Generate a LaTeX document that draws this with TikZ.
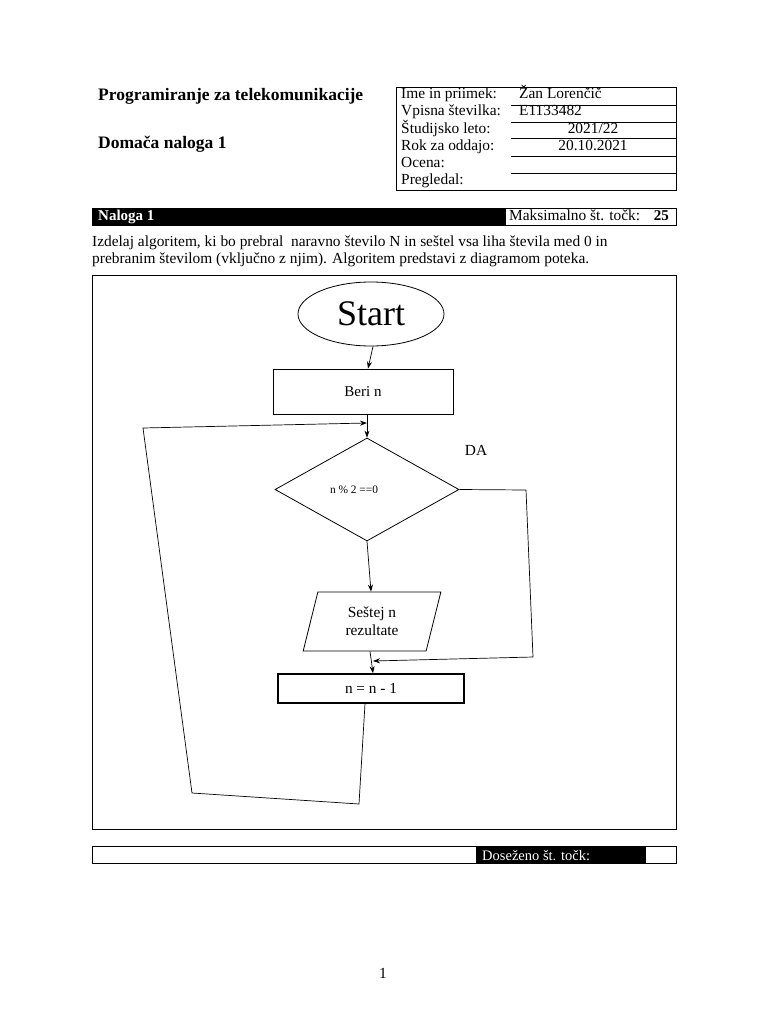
\documentclass[tikz,border=0pt]{standalone}
\usepackage{fontspec}
\setmainfont{Liberation Serif}
\usetikzlibrary{shapes.geometric,arrows.meta,calc}
\begin{document}
\begin{tikzpicture}[x=1pt,y=-1pt,
  txt/.style={inner sep=0pt, anchor=base west, font=\fontsize{15.4}{18}\selectfont},
  btxt/.style={txt, font=\fontsize{15}{18}\selectfont\bfseries},
  htxt/.style={txt, font=\fontsize{17.5}{20}\selectfont\bfseries},
  ctxt/.style={inner sep=0pt, anchor=base, font=\fontsize{15.4}{18}\selectfont},
  frame/.style={draw=black, line width=0.9pt},
  flow/.style={draw=black, line width=0.8pt},
  conn/.style={draw=black, line width=0.7pt},
  arr/.style={conn, -{Stealth[length=7pt,width=5pt]}}
]
\useasboundingbox (0,0) rectangle (768,1024);
\fill[white] (0,0) rectangle (768,1024);

% header titles
\node[htxt] (t1) at (98,101) {Programiranje za telekomunikacije};
\node[htxt] (t2) at (98,149) {Domača naloga 1};

% info table
\draw[frame] (396,87) rectangle (676,190);
\foreach \yy in {105,122,138.5,156,173}{\draw[frame] (511,\yy) -- (676,\yy);}
\node[txt] (l1) at (401,99) {Ime in priimek:};
\node[txt] (l2) at (401,116) {Vpisna številka:};
\node[txt] (l3) at (401,133.5) {Študijsko leto:};
\node[txt] (l4) at (401,150.5) {Rok za oddajo:};
\node[txt] (l5) at (401,168) {Ocena:};
\node[txt] (l6) at (401,184.5) {Pregledal:};
\node[txt] (v1) at (519,99) {Žan Lorenčič};
\node[txt] (v2) at (519,116) {E1133482};
\node[ctxt] (v3) at (593,133.5) {2021/22};
\node[ctxt] (v4) at (593,150.5) {20.10.2021};

% task bar
\fill[black] (92,208) rectangle (505,225);
\draw[frame] (505,208) rectangle (676,225);
\draw[frame] (92,208) rectangle (676,225);
\node[btxt, text=white] (nal) at (98,221) {Naloga 1};
\node[txt] (maks) at (509,221) {Maksimalno št. točk:};
\node[btxt, anchor=base east] (pts) at (669,221) {25};

\node[txt] (d1) at (92,246) {Izdelaj algoritem, ki bo prebral\ \ naravno število N in seštel vsa liha števila med 0 in};
\node[txt] (d2) at (92,263) {prebranim številom (vključno z njim). Algoritem predstavi z diagramom poteka.};

% big frame
\draw[frame] (92,275) rectangle (676,829);

% flowchart
\node[flow, ellipse, minimum width=146pt, minimum height=64pt, inner sep=0pt,
      font=\fontsize{36}{40}\selectfont] (start) at (371,314) {Start};
\node[flow, rectangle, minimum width=180pt, minimum height=45pt, inner sep=0pt,
      font=\fontsize{15}{17}\selectfont] (beri) at (363,391.5) {Beri n};
\node[flow, diamond, minimum width=184pt, minimum height=103pt, inner sep=0pt] (dia) at (367,489.5) {};
\node[inner sep=0pt, font=\fontsize{11.4}{13}\selectfont] (diat) at (354,490) {n \% 2 ==0};
\node[inner sep=0pt, font=\fontsize{15.4}{18}\selectfont] (da) at (476,450) {DA};
\node[flow, trapezium, trapezium left angle=76, trapezium right angle=104,
      minimum width=138pt, minimum height=59pt, inner sep=0pt, trapezium stretches=true,
      align=center, font=\fontsize{15.4}{18}\selectfont] (sum) at (372,621.5) {Seštej n\\rezultate};
\node[draw=black, line width=1.6pt, rectangle, minimum width=186pt, minimum height=29pt, inner sep=0pt,
      font=\fontsize{15.3}{17}\selectfont] (dec) at (371,688.5) {n = n - 1};

% connectors
\draw[arr] ([xshift=2pt]start.south) -- ([xshift=5pt]beri.north);
\coordinate (join) at (367,423);
\draw[arr] ([xshift=4pt]beri.south) -- (dia.north);
\coordinate (c1) at (359,804);
\coordinate (c2) at (192,793);
\coordinate (c3) at (143,428);
\draw[arr] ([xshift=-6pt]dec.south) -- (c1) -- (c2) -- (c3) -- (join);
\draw[arr] (dia.south) -- ([xshift=-1pt]sum.north);
\coordinate (merge) at (373,661);
\coordinate (r1) at (526,490);
\coordinate (r2) at (533,657);
\draw[arr] (dia.east) -- (r1) -- (r2) -- (merge);
\draw[arr] ([xshift=-2pt]sum.south) -- ([xshift=2pt]dec.north);

% bottom bar
\draw[frame] (92,846) rectangle (676,863);
\fill[black] (476,846) rectangle (646,863);
\node[txt, text=white, font=\fontsize{14.5}{16}\selectfont] (dos) at (482,860) {Doseženo št. točk:};

% page number
\node[ctxt] (pg) at (383,978) {1};
\end{tikzpicture}
\end{document}
